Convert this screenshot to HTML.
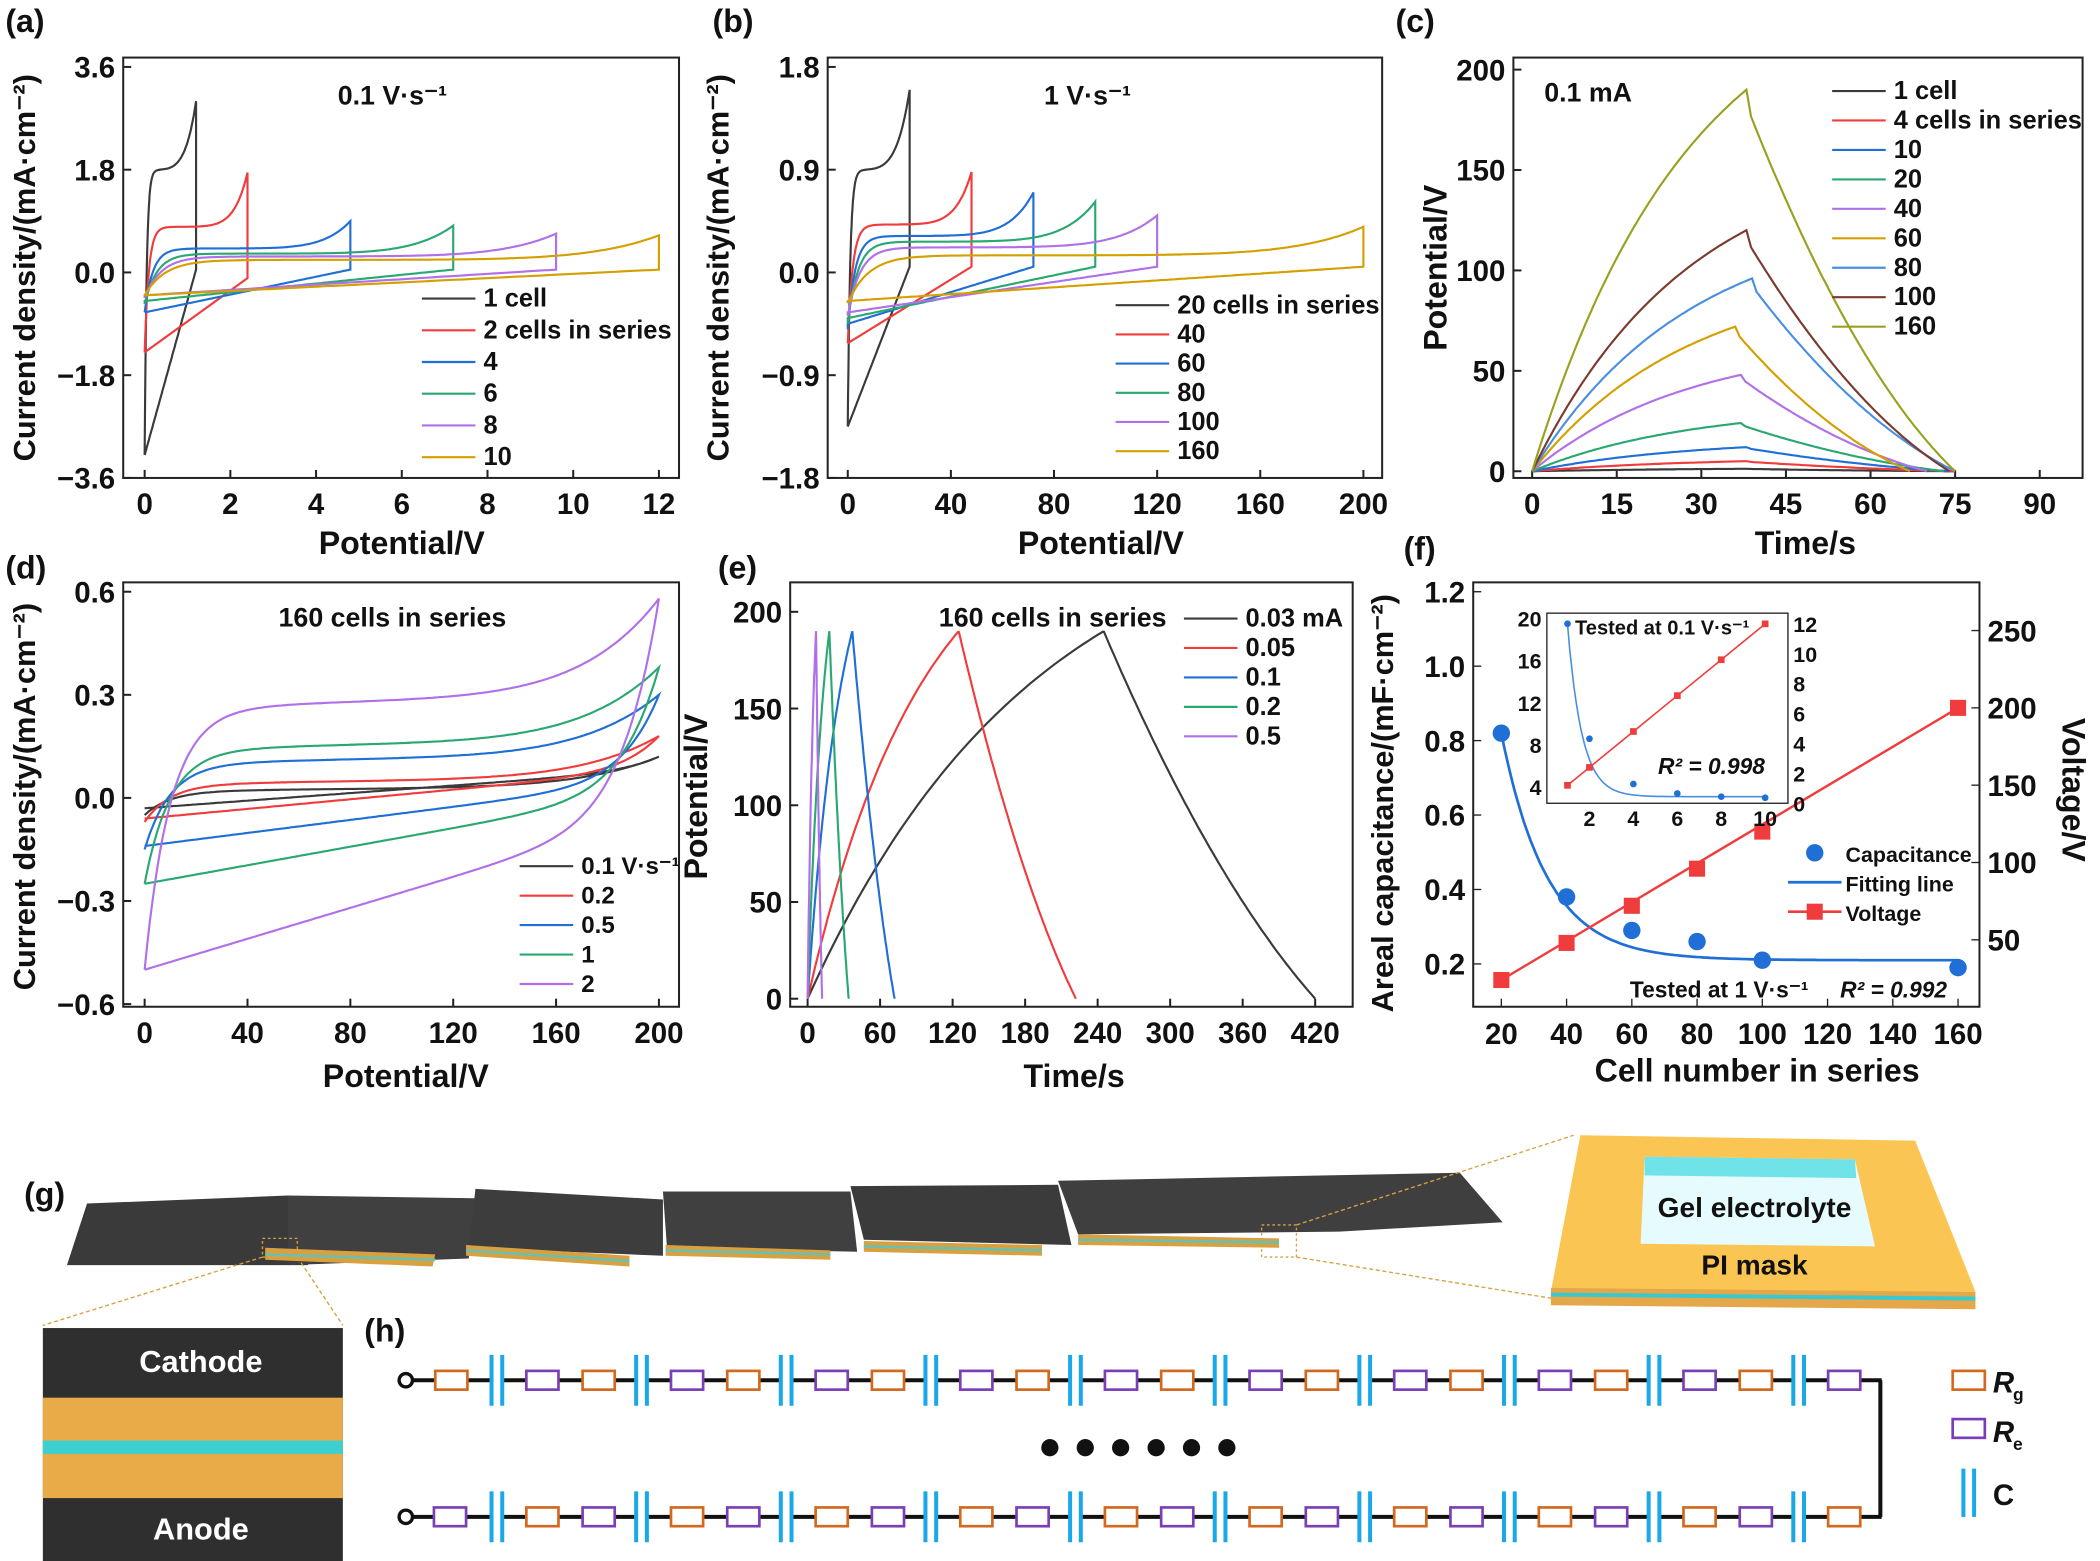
<!DOCTYPE html>
<html><head><meta charset="utf-8"><style>
html,body{margin:0;padding:0;background:#fff}
svg{display:block}
text{font-family:"Liberation Sans",Arial,sans-serif;font-weight:bold;fill:#111}
</style></head><body>
<svg id="s" width="2100" height="1561" viewBox="0 0 1568 1166" preserveAspectRatio="none" xmlns="http://www.w3.org/2000/svg">
<g>
<polygon points="65,899 215,893 230,945 50,945" fill="#3a3a3a"/>
<polygon points="215,893 355,895 350,940 215,945" fill="#404040"/>
<polygon points="355,888 495,896 495,938 350,932" fill="#3d3d3d"/>
<polygon points="495,890 635,890 640,935 498,932" fill="#404040"/>
<polygon points="635,886 790,885 800,930 645,926" fill="#3b3b3b"/>
<polygon points="790,882 1090,876 1122,913 1000,920 805,922" fill="#3f3f3f"/>
<polygon points="198,932 325,937 323,946 198,941" fill="#d9a040"/>
<line x1="198" y1="937" x2="325" y2="941" stroke="#6bbfb0" stroke-width="2"/>
<polygon points="348,930 470,938 470,946 348,938" fill="#d9a040"/>
<line x1="348" y1="934" x2="470" y2="942" stroke="#6bbfb0" stroke-width="2"/>
<polygon points="497,930 620,934 620,941 497,938" fill="#d9a040"/>
<line x1="497" y1="934" x2="620" y2="937" stroke="#6bbfb0" stroke-width="2"/>
<polygon points="645,927 778,930 778,938 645,935" fill="#d9a040"/>
<line x1="645" y1="931" x2="778" y2="934" stroke="#6bbfb0" stroke-width="2"/>
<polygon points="805,922 955,925 955,932 805,930" fill="#d9a040"/>
<line x1="805" y1="926" x2="955" y2="928" stroke="#6bbfb0" stroke-width="2"/>
<rect x="196" y="925" width="26" height="14" fill="none" stroke="#d9a040" stroke-dasharray="2,2"/>
<rect x="942" y="915" width="26" height="24" fill="none" stroke="#d9a040" stroke-dasharray="2,2"/>
<line x1="196" y1="939" x2="32" y2="990" stroke="#d9a040" stroke-dasharray="3,2"/>
<line x1="222" y1="939" x2="256" y2="990" stroke="#d9a040" stroke-dasharray="3,2"/>
<line x1="968" y1="915" x2="1175" y2="848" stroke="#d9a040" stroke-dasharray="3,2"/>
<line x1="968" y1="939" x2="1160" y2="970" stroke="#d9a040" stroke-dasharray="3,2"/>
<polygon points="1180,848 1430,852 1475,965 1158,965" fill="#fbc554"/>
<polygon points="1158,962 1475,965 1475,978 1158,975" fill="#e4a84a"/>
<line x1="1158" y1="967" x2="1475" y2="970" stroke="#39c8d0" stroke-width="3"/>
<polygon points="1228,864 1385,866 1400,931 1225,929" fill="#e6fbfd"/>
<polygon points="1228,864 1385,866 1386,880 1228,878" fill="#6fe3e8"/>
<text x="1310" y="909" font-size="21" text-anchor="middle">Gel electrolyte</text>
<text x="1310" y="952" font-size="21" text-anchor="middle">PI mask</text>
<rect x="32" y="992" width="224" height="174" fill="#2f2f2f"/>
<rect x="32" y="1044" width="224" height="75" fill="#e9ab48"/>
<rect x="32" y="1076" width="224" height="10" fill="#3ecfd0"/>
<text x="150" y="1025" font-size="23" text-anchor="middle" style="fill:#fff">Cathode</text>
<text x="150" y="1150" font-size="23" text-anchor="middle" style="fill:#fff">Anode</text>
<text x="18" y="900" font-size="24">(g)</text>
<text x="272" y="1002" font-size="24">(h)</text>
<g id="circ"></g>
<text x="850" y="1090" font-size="30" text-anchor="middle">● ● ● ● ● ●</text>
<rect x="1458" y="1024" width="24" height="14" fill="#fff" stroke="#d2691e" stroke-width="2"/>
<text x="1488" y="1040" font-size="22" font-style="italic">R</text><text x="1503" y="1046" font-size="13">g</text>
<rect x="1458" y="1060" width="24" height="14" fill="#fff" stroke="#7b3fb5" stroke-width="2"/>
<text x="1488" y="1077" font-size="22" font-style="italic">R</text><text x="1503" y="1083" font-size="13">e</text>
<line x1="1466" y1="1097" x2="1466" y2="1133" stroke="#1aa8e8" stroke-width="3"/>
<line x1="1474" y1="1097" x2="1474" y2="1133" stroke="#1aa8e8" stroke-width="3"/>
<text x="1488" y="1124" font-size="22">C</text>
</g>
<g id="plots"></g>
</svg>
<script>
var NS="http://www.w3.org/2000/svg";
function el(p,t,a,txt){var e=document.createElementNS(NS,t);for(var k in a)e.setAttribute(k,a[k]);if(txt!=null)e.textContent=txt;p.appendChild(e);return e;}
var P=document.getElementById('plots');
var C={k:'#3a3a3a',r:'#f03c3c',b:'#1f6fd6',g:'#2aa872',p:'#b070e8',y:'#d4a000',lb:'#4a8fe0',br:'#7a3b2e',ol:'#9aa020'};
function T(x,y,s,fs,anc,extra){var a={x:x,y:y,'font-size':fs||22,'text-anchor':anc||'middle'};if(extra)for(var k in extra)a[k]=extra[k];return el(P,'text',a,s);}
function axes(o){
 el(P,'rect',{x:o.bx0,y:o.by0,width:o.bx1-o.bx0,height:o.by1-o.by0,fill:'none',stroke:'#222','stroke-width':1.5});
 o.xt.forEach(function(v){var x=o.X(v);el(P,'line',{x1:x,y1:o.by1,x2:x,y2:o.by1-6,stroke:'#222','stroke-width':1.5});T(x,o.by1+27,o.xl?o.xl(v):String(v),22);});
 o.yt.forEach(function(v){var y=o.Y(v);el(P,'line',{x1:o.bx0,y1:y,x2:o.bx0+6,y2:y,stroke:'#222','stroke-width':1.5});T(o.bx0-6,y+8,o.yl?o.yl(v):String(v),22,'end');});
}
function lin(a0,a1,p0,p1){return function(v){return p0+(v-a0)*(p1-p0)/(a1-a0);};}
function pl(X,Y,pts,c,w){var d='';pts.forEach(function(p,i){d+=(i?'L':'M')+X(p[0]).toFixed(1)+','+Y(p[1]).toFixed(1);});el(P,'path',{d:d,fill:'none',stroke:c,'stroke-width':w||1.6});}
function leg(x,y,items,dy,fs){items.forEach(function(it,i){var yy=y+i*dy;el(P,'line',{x1:x,y1:yy-6,x2:x+40,y2:yy-6,stroke:it[1],'stroke-width':1.6});T(x+46,yy,it[0],fs||19,'start');});}
function mlab(v){return v<0?'\u2212'+Math.abs(v).toFixed(1):v.toFixed(1);}
function cv(V,start,up,peak,lowV,low0,k,pw){var pts=[],n=200,i,f;k=k||0.03;pw=pw||6;
 for(i=0;i<=n;i++){f=i/n;pts.push([f*V,start+(up-start)*(1-Math.exp(-f/k))+(peak-up)*Math.pow(f,pw)]);}
 for(i=n;i>=0;i--){f=i/n;pts.push([f*V,low0+(lowV-low0)*f]);}
 pts.push([0,start]);return pts;}
(function(){var X=lin(0,12,108,492),Y=lin(3.6,-3.6,50,357);
axes({bx0:92,bx1:507,by0:43,by1:357,X:X,Y:Y,xt:[0,2,4,6,8,10,12],yt:[3.6,1.8,0,-1.8,-3.6],yl:mlab});
var S=[[1.2,-3.2,1.8,3.0,0.05,-3.2,C.k],[2.4,-1.4,0.8,1.75,-0.1,-1.4,C.r],[4.8,-0.7,0.42,0.9,0.05,-0.7,C.b],[7.2,-0.55,0.33,0.82,0.05,-0.5,C.g],[9.6,-0.45,0.28,0.68,0.05,-0.4,C.p],[12,-0.4,0.22,0.65,0.05,-0.4,C.y]];
S.forEach(function(s){pl(X,Y,cv(s[0],s[1],s[2],s[3],s[4],s[5],0.04,s[0]<2?5:8),s[6]);});
T(293,78,'0.1 V\u00b7s\u207b\u00b9',20);
leg(315,229,[['1 cell',C.k],['2 cells in series',C.r],['4',C.b],['6',C.g],['8',C.p],['10',C.y]],23.7);
T(300,414,'Potential/V',24);
T(0,0,'Current density/(mA\u00b7cm\u207b\u00b2)',23,'middle',{transform:'translate(26,200) rotate(-90)'});
T(4,24,'(a)',24,'start');})();
(function(){var X=lin(0,200,633,1018),Y=lin(1.8,-1.8,50,357);
axes({bx0:618,bx1:1032,by0:43,by1:357,X:X,Y:Y,xt:[0,40,80,120,160,200],yt:[1.8,0.9,0,-0.9,-1.8],yl:mlab});
var S=[[24,-1.35,0.9,1.6,0.05,-1.35,C.k],[48,-0.62,0.42,0.88,0.05,-0.62,C.r],[72,-0.5,0.32,0.7,0.05,-0.45,C.b],[96,-0.45,0.27,0.62,0.05,-0.4,C.g],[120,-0.38,0.22,0.5,0.05,-0.35,C.p],[200,-0.27,0.15,0.4,0.05,-0.25,C.y]];
S.forEach(function(s){pl(X,Y,cv(s[0],s[1],s[2],s[3],s[4],s[5],0.04,s[0]<30?5:8),s[6]);});
T(812,78,'1 V\u00b7s\u207b\u00b9',20);
leg(833,234,[['20 cells in series',C.k],['40',C.r],['60',C.b],['80',C.g],['100',C.p],['160',C.y]],21.8);
T(822,414,'Potential/V',24);
T(0,0,'Current density/(mA\u00b7cm\u207b\u00b2)',23,'middle',{transform:'translate(544,200) rotate(-90)'});
T(532,24,'(b)',24,'start');})();
(function(){var X=lin(0,90,1144,1523),Y=lin(200,0,52,352);
axes({bx0:1130,bx1:1555,by0:43,by1:357,X:X,Y:Y,xt:[0,15,30,45,60,75,90],yt:[200,150,100,50,0]});
var S=[[1.2,38,75,C.k],[5,38,75,C.r],[12,38,74,C.b],[24,37,73,C.g],[48,37,70,C.p],[72,36,67,C.y],[96,39,75,C.lb],[120,38,74,C.br],[190,38,75,C.ol]];
S.forEach(function(s){var V=s[0],tp=s[1],te=s[2],pts=[],i,f,tau=28;
 for(i=0;i<=80;i++){f=i/80*tp;pts.push([f,V*(1-Math.exp(-f/tau))/(1-Math.exp(-tp/tau))]);}
 var V2=V*0.93;for(i=0;i<=80;i++){f=i/80;pts.push([tp+0.8+(te-tp-0.8)*f,V2*(1-f)*(1-0.45*f)]);}
 pl(X,Y,pts,s[3]);});
T(1153,76,'0.1 mA',20,'start');
leg(1368,74,[['1 cell',C.k],['4 cells in series',C.r],['10',C.b],['20',C.g],['40',C.p],['60',C.y],['80',C.lb],['100',C.br],['160',C.ol]],22);
T(1348,414,'Time/s',24);
T(0,0,'Potential/V',24,'middle',{transform:'translate(1080,200) rotate(-90)'});
T(1042,24,'(c)',24,'start');})();
(function(){var X=lin(0,200,108,492),Y=lin(0.6,-0.6,442,750);
axes({bx0:92,bx1:507,by0:435,by1:752,X:X,Y:Y,xt:[0,40,80,120,160,200],yt:[0.6,0.3,0,-0.3,-0.6],yl:mlab});
var S=[[-0.05,0.02,0.12,-0.03,0.08,C.k],[-0.07,0.04,0.18,-0.06,0.08,C.r],[-0.15,0.1,0.3,-0.14,0.05,C.b],[-0.25,0.14,0.38,-0.25,0.02,C.g],[-0.5,0.26,0.58,-0.5,-0.05,C.p]];
S.forEach(function(s){var pts=[],i,f,n=200;
 for(i=0;i<=n;i++){f=i/n;pts.push([f*200,s[0]+(s[1]-s[0])*(1-Math.exp(-f/0.05))+(s[2]-s[1])*(0.15*f+0.85*Math.pow(f,7))]);}
 for(i=n;i>=0;i--){f=i/n;pts.push([f*200,s[3]+(s[4]-s[3])*f+(s[2]-s[4])*Math.pow(f,14)]);}
 pl(X,Y,pts,s[5]);});
T(293,468,'160 cells in series',20);
leg(388,653,[['0.1 V\u00b7s\u207b\u00b9',C.k],['0.2',C.r],['0.5',C.b],['1',C.g],['2',C.p]],22,18);
T(303,812,'Potential/V',24);
T(0,0,'Current density/(mA\u00b7cm\u207b\u00b2)',23,'middle',{transform:'translate(26,595) rotate(-90)'});
T(4,432,'(d)',24,'start');})();
(function(){var X=lin(0,420,603,982),Y=lin(200,0,457,746);
axes({bx0:590,bx1:1010,by0:435,by1:752,X:X,Y:Y,xt:[0,60,120,180,240,300,360,420],yt:[200,150,100,50,0]});
var S=[[245,420,C.k],[125,222,C.r],[37,72,C.b],[18,34,C.g],[7,12,C.p]];
S.forEach(function(s){var pts=[],i,f;
 for(i=0;i<=60;i++){f=i/60;pts.push([f*s[0],190*(1-Math.exp(-f*1.3))/(1-Math.exp(-1.3))]);}
 for(i=0;i<=60;i++){f=i/60;pts.push([s[0]+(s[1]-s[0])*f,190*(1-f)*(1-0.35*f)]);}
 pl(X,Y,pts,s[2]);});
T(786,468,'160 cells in series',20);
leg(884,468,[['0.03 mA',C.k],['0.05',C.r],['0.1',C.b],['0.2',C.g],['0.5',C.p]],22);
T(802,812,'Time/s',24);
T(0,0,'Potential/V',24,'middle',{transform:'translate(528,595) rotate(-90)'});
T(536,432,'(e)',24,'start');})();
(function(){var X=lin(20,160,1121,1462),Y=lin(1.2,0.2,442,720),YR=lin(250,50,471,702);
el(P,'rect',{x:1100,y:435,width:378,height:317,fill:'none',stroke:'#222','stroke-width':1.5});
[20,40,60,80,100,120,140,160].forEach(function(v){var x=X(v);el(P,'line',{x1:x,y1:752,x2:x,y2:746,stroke:'#222'});T(x,780,String(v),22);});
[1.2,1.0,0.8,0.6,0.4,0.2].forEach(function(v){var y=Y(v);el(P,'line',{x1:1100,y1:y,x2:1106,y2:y,stroke:'#222'});T(1094,y+8,v.toFixed(1),22,'end');});
[250,200,150,100,50].forEach(function(v){var y=YR(v);el(P,'line',{x1:1478,y1:y,x2:1472,y2:y,stroke:'#222'});T(1484,y+8,String(v),22,'start');});
var pts=[];for(var v=20;v<=160;v+=1)pts.push([v,0.21+0.61*Math.exp(-(v-20)/14)]);pl(X,Y,pts,'#1f6fd6',2);
pl(X,YR,[[20,24],[160,200]],'#f03c3c',1.8);
[[20,0.82],[40,0.38],[60,0.29],[80,0.26],[100,0.21],[160,0.19]].forEach(function(p){el(P,'circle',{cx:X(p[0]),cy:Y(p[1]),r:6.5,fill:'#1f6fd6'});});
[[20,24],[40,48],[60,72],[80,96],[100,120],[160,200]].forEach(function(p){el(P,'rect',{x:X(p[0])-6,y:YR(p[1])-6,width:12,height:12,fill:'#f03c3c'});});
el(P,'circle',{cx:1355,cy:637,r:6.5,fill:'#1f6fd6'});T(1378,644,'Capacitance',16,'start');
el(P,'line',{x1:1335,y1:659,x2:1375,y2:659,stroke:'#1f6fd6','stroke-width':2});T(1378,666,'Fitting line',16,'start');
el(P,'line',{x1:1335,y1:681,x2:1375,y2:681,stroke:'#f03c3c','stroke-width':2});el(P,'rect',{x:1349,y:675,width:12,height:12,fill:'#f03c3c'});T(1378,688,'Voltage',16,'start');
T(1217,745,'Tested at 1 V\u00b7s\u207b\u00b9',17,'start');T(1374,745,'R\u00b2 = 0.992',17,'start',{'font-style':'italic'});
var x0=1155,x1=1335,iy0=458,iy1=600;el(P,'rect',{x:x0,y:iy0,width:x1-x0,height:iy1-iy0,fill:'#fff',stroke:'#222'});
var IX=lin(0,10,1154,1318),IL=lin(20,4,462,588),IR=lin(12,0,466,600);
[2,4,6,8,10].forEach(function(v){T(IX(v),617,String(v),16);});
[20,16,12,8,4].forEach(function(v){T(x0-4,IL(v)+6,String(v),16,'end');});
[12,10,8,6,4,2,0].forEach(function(v){T(x1+4,IR(v)+6,String(v),16,'start');});
var ip=[];for(var t=1;t<=10;t+=0.1)ip.push([t,3.1+16.4*Math.exp(-(t-1)/0.65)]);pl(IX,IL,ip,'#4a8fe0',1.2);
[[1,19.5],[2,8.6],[4,4.3],[6,3.4],[8,3.1],[10,3]].forEach(function(p){el(P,'circle',{cx:IX(p[0]),cy:IL(p[1]),r:2.5,fill:'#1f6fd6'});});
pl(IX,IR,[[1,1.2],[10,12]],'#f03c3c',1.2);
[1,2,4,6,8,10].forEach(function(v){el(P,'rect',{x:IX(v)-2.5,y:IR(v*1.2)-2.5,width:5,height:5,fill:'#f03c3c'});});
T(1176,474,'Tested at 0.1 V\u00b7s\u207b\u00b9',15,'start');
T(1238,578,'R\u00b2 = 0.998',17,'start',{'font-style':'italic'});
T(1312,808,'Cell number in series',24);
T(0,0,'Areal capacitance/(mF\u00b7cm\u207b\u00b2)',23,'middle',{transform:'translate(1040,600) rotate(-90)'});
T(0,0,'Voltage/V',24,'middle',{transform:'translate(1540,590) rotate(90)'});
T(1048,418,'(f)',24,'start');})();
(function(){var G=document.getElementById('circ');
function wire(y,x0,x1){el(G,'line',{x1:x0,y1:y,x2:x1,y2:y,stroke:'#111','stroke-width':3});}
function res(x,y,c){el(G,'rect',{x:x-12,y:y-7,width:24,height:14,fill:'#fff',stroke:c,'stroke-width':2});}
function cap(x,y){el(G,'rect',{x:x-5,y:y-10,width:10,height:20,fill:'#fff'});el(G,'line',{x1:x-4,y1:y-19,x2:x-4,y2:y+19,stroke:'#1aa8e8','stroke-width':3});el(G,'line',{x1:x+4,y1:y-19,x2:x+4,y2:y+19,stroke:'#1aa8e8','stroke-width':3});}
var O='#d2691e',Pu='#7b3fb5',y1=1031,y2=1133;
wire(y1,304,1405);wire(y2,304,1405);el(G,'line',{x1:1404,y1:y1,x2:1404,y2:y2,stroke:'#111','stroke-width':3});
el(G,'circle',{cx:303,cy:y1,r:5,fill:'#fff',stroke:'#111','stroke-width':2.5});el(G,'circle',{cx:303,cy:y2,r:5,fill:'#fff',stroke:'#111','stroke-width':2.5});
res(337,y1,O);res(336,y2,Pu);
for(var i=0;i<10;i++){var c=371+i*108;cap(c,y1);cap(c,y2);res(c+34,y1,Pu);res(c+34,y2,O);if(i<9){res(c+76,y1,O);res(c+76,y2,Pu);}}
})();
</script>
</body></html>
